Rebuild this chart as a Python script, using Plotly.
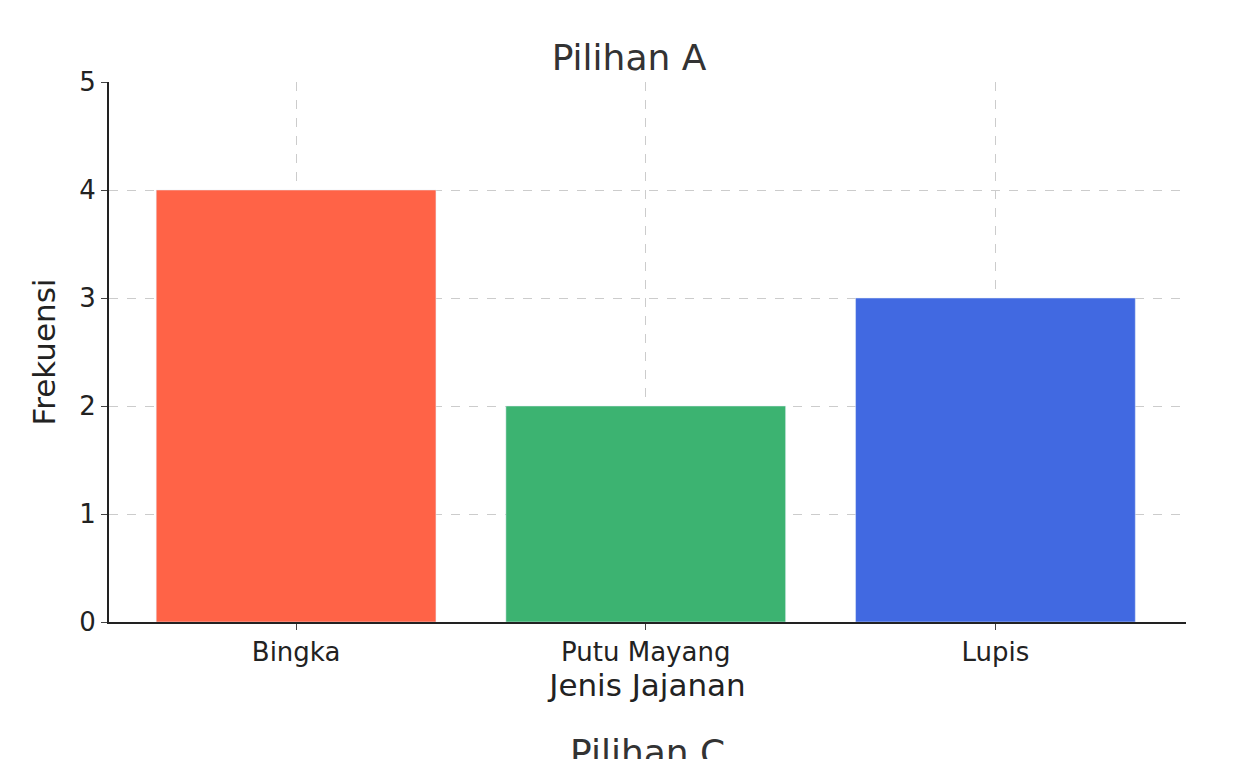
import plotly.graph_objects as go

categories = ['Bingka', 'Putu Mayang', 'Lupis']
values = [4, 2, 3]
colors = ['#FF6347', '#3CB371', '#4169E1']

fig = go.Figure(go.Bar(x=categories, y=values, marker_color=colors, width=0.8))

font = dict(family='DejaVu Sans', color='#222222')
fig.update_layout(
    width=1242, height=759,
    margin=dict(l=101, r=64, t=74, b=145),
    plot_bgcolor='white', paper_bgcolor='white',
    font=dict(**font, size=26),
    title=dict(text='Pilihan A', x=0.5, xanchor='center', y=0.935, yanchor='middle',
               font=dict(size=36, color='#333333')),
    xaxis=dict(title=dict(text='Jenis Jajanan', standoff=6), range=[-0.535, 2.545],
               showline=True, linecolor='#222222', linewidth=2, ticks='outside', ticklen=6,
               showgrid=True, gridcolor='#cccccc', griddash='dash', gridwidth=1,
               layer='above traces', tickfont=dict(size=26)),
    yaxis=dict(title=dict(text='Frekuensi', standoff=14), range=[0, 5], dtick=1,
               showline=True, linecolor='#222222', linewidth=2, ticks='outside', ticklen=6,
               showgrid=True, gridcolor='#cccccc', griddash='dash', gridwidth=1,
               layer='above traces', tickfont=dict(size=26)),
    showlegend=False,
)
fig.add_annotation(text='Frekuensi', xref='paper', yref='paper', x=1.045, y=0.5,
                   textangle=-90, showarrow=False, xanchor='left', font=dict(size=26))
fig.add_annotation(text='Pilihan C', xref='paper', yref='paper', x=0.5, y=-0.2,
                   showarrow=False, yanchor='top', font=dict(size=36, color='#333333'))
fig.write_html('out.html')
